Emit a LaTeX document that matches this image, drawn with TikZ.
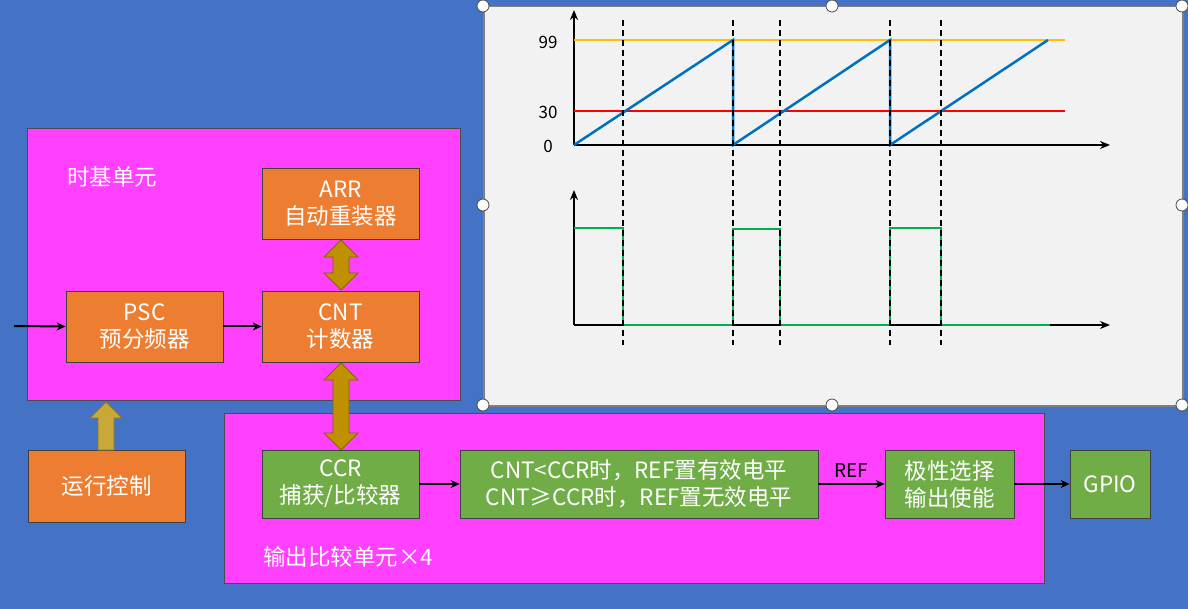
\documentclass[tikz,border=0pt]{standalone}
\usepackage{fontspec}
\setmainfont{Noto Sans CJK SC}
\usetikzlibrary{arrows.meta}
\definecolor{bgblue}{RGB}{68,114,196}
\definecolor{mag}{RGB}{255,64,255}
\definecolor{org}{RGB}{237,125,49}
\definecolor{grn}{RGB}{112,173,71}
\definecolor{gold}{RGB}{191,144,0}
\definecolor{gold2}{RGB}{201,168,58}
\definecolor{panel}{RGB}{242,242,242}
\definecolor{sblue}{RGB}{0,112,192}
\definecolor{pwm}{RGB}{0,176,80}
\definecolor{yel}{RGB}{255,192,0}
\tikzset{
 unit/.style={fill=mag,draw=gray!60!black,line width=0.8pt},
 obox/.style={fill=org,draw=gray!50!black,line width=0.7pt,text=white,align=center,font=\fontsize{22.5}{27}\selectfont,inner sep=0pt},
 gbox/.style={fill=grn,draw=gray!50!black,line width=0.7pt,text=white,align=center,font=\fontsize{22.5}{27}\selectfont,inner sep=0pt},
 lbl/.style={font=\fontsize{22.5}{27}\selectfont},
 conn/.style={-{Stealth[length=9pt,width=8pt]},line width=2pt},
 axis/.style={-{Stealth[length=10pt,width=8pt]},line width=2pt},
 dblar/.style={fill=gold,draw=gold!70!black,line width=0.8pt},
 handle/.style={circle,fill=white,draw=gray!60!black,line width=0.8pt,minimum size=12pt,inner sep=0pt},
 vdash/.style={line width=1.6pt,dash pattern=on 6pt off 4pt},
}
\begin{document}
\begin{tikzpicture}[x=1pt,y=-1pt]
\path[fill=bgblue] (0,0) rectangle (1188,609);
\useasboundingbox (0,0) rectangle (1188,609);
% time base unit
\node[unit,minimum width=433pt,minimum height=272pt,anchor=north west] (tb) at (27,128) {};
\node[lbl,text=white] (tbl) at (112,177) {时基单元};
\node[obox,minimum width=157pt,minimum height=71pt] (arr) at (340.5,203.5) {ARR\\自动重装器};
\node[obox,minimum width=157pt,minimum height=71pt] (psc) at (144.5,326.5) {PSC\\预分频器};
\node[obox,minimum width=157pt,minimum height=71pt] (cnt) at (340.5,326.5) {CNT\\计数器};
\coordinate (in) at (14,326);
\draw[conn] (in) -- (psc.west);
\draw[conn] (psc.east) -- (cnt.west);
% output unit
\node[unit,minimum width=820pt,minimum height=170pt,anchor=north west] (oc) at (224,413) {};
\node[lbl,text=white] (ocl) at (348,557) {输出比较单元×4};
\node[obox,minimum width=157pt,minimum height=72pt] (run) at (106.5,486) {运行控制};
\node[gbox,minimum width=157pt,minimum height=68pt] (ccr) at (340.5,484) {CCR\\捕获/比较器};
\node[gbox,minimum width=358pt,minimum height=68pt] (cond) at (639,484) {CNT<CCR时，REF置有效电平\\CNT≥CCR时，REF置无效电平};
\node[gbox,minimum width=129pt,minimum height=68pt] (pol) at (949.5,484) {极性选择\\输出使能};
\node[gbox,minimum width=80pt,minimum height=68pt] (gpio) at (1110,484) {GPIO};
\draw[conn] (ccr.east) -- (cond.west);
\draw[conn] (cond.east) -- node[above,font=\fontsize{19}{22}\selectfont,yshift=2pt] (reflbl) {REF} (pol.west);
\draw[conn] (pol.east) -- (gpio.west);
% double arrows
\draw[dblar] (341,240) -- (358,257) -- (349,257) -- (349,273) -- (358,273) -- (341,290) -- (324,273) -- (333,273) -- (333,257) -- (324,257) -- cycle;
\draw[dblar] (341,363) -- (358,380) -- (349,380) -- (349,433) -- (358,433) -- (341,450) -- (324,433) -- (333,433) -- (333,380) -- (324,380) -- cycle;
\draw[fill=gold2,draw=gold2!70!black,line width=0.8pt] (106,402) -- (122,418) -- (114,418) -- (114,450) -- (98,450) -- (98,418) -- (90,418) -- cycle;
% panel
\node[fill=panel,draw=gray,line width=1.5pt,minimum width=699pt,minimum height=399pt,anchor=north west] (pn) at (483,6) {};
% upper chart
\coordinate (o1) at (574,145);
\coordinate (y1) at (574,10);
\coordinate (x1) at (1110,145);
\draw[axis] (o1) -- (y1);
\draw[axis] (o1) -- (x1);
\draw[yel,line width=2.2pt] (574,40) -- (1065,40);
\draw[red,line width=2.2pt] (574,111) -- (1065,111);
\draw[sblue,line width=2.5pt] (574,145) -- (733,40) -- (733,145) -- (890,40) -- (890,145) -- (1048,40);
\node[font=\fontsize{17}{20}\selectfont] (l99) at (548,42) {99};
\node[font=\fontsize{17}{20}\selectfont] (l30) at (548,112) {30};
\node[font=\fontsize{17}{20}\selectfont] (l0) at (548,146) {0};
% lower chart
\coordinate (o2) at (574,325);
\coordinate (y2) at (574,190);
\coordinate (x2) at (1110,325);
\draw[axis] (o2) -- (y2);
\draw[axis] (o2) -- (x2);
\draw[pwm,line width=2.5pt] (574,228) -- (623,228) -- (623,325) -- (733,325) -- (733,229) -- (780,229) -- (780,325) -- (890,325) -- (890,228) -- (941,228) -- (941,325) -- (1050,325);
\foreach \x in {623,733,780,890,941} \draw[vdash] (\x,20) -- (\x,345);
\foreach \x/\y [count=\i] in {483/6,832/6,1182/6,483/205,1182/205,483/405,832/405,1182/405}
  \node[handle] (h\i) at (\x,\y) {};
\end{tikzpicture}
\end{document}
